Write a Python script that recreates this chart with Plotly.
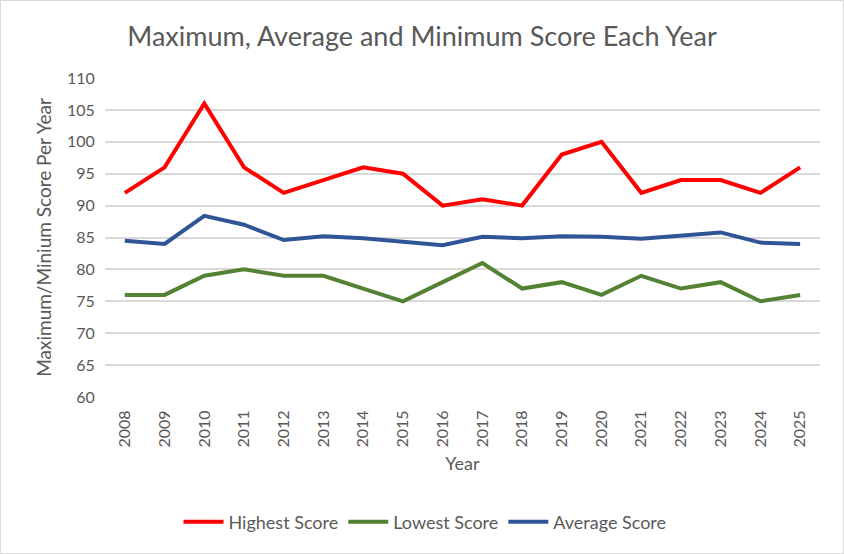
import plotly.graph_objects as go

years = [str(y) for y in range(2008, 2026)]
highest = [92, 96, 106, 96, 92, 94, 96, 95, 90, 91, 90, 98, 100, 92, 94, 94, 92, 96]
lowest = [76, 76, 79, 80, 79, 79, 77, 75, 78, 81, 77, 78, 76, 79, 77, 78, 75, 76]
average = [84.5, 84.0, 88.4, 87.0, 84.6, 85.2, 84.9, 84.3, 83.8, 85.1, 84.9, 85.2, 85.1, 84.8, 85.3, 85.8, 84.2, 84.0]

W, H = 844, 554
ml, mr, mt, mb = 105, 24, 78, 157
font = "Lato, Arial, sans-serif"

fig = go.Figure()
fig.add_trace(go.Scatter(x=years, y=highest, name="Highest Score", mode="lines",
                         line=dict(color="#ff0000", width=4)))
fig.add_trace(go.Scatter(x=years, y=lowest, name="Lowest Score", mode="lines",
                         line=dict(color="#548235", width=4)))
fig.add_trace(go.Scatter(x=years, y=average, name="Average Score", mode="lines",
                         line=dict(color="#2f5597", width=4)))

pw = W - ml - mr
ph = H - mt - mb
fig.add_shape(type="rect", xref="paper", yref="paper",
              x0=(-ml + 0.5) / pw, x1=(pw + mr - 0.5) / pw,
              y0=(-mb + 0.5) / ph, y1=(ph + mt - 0.5) / ph,
              line=dict(color="#d9d9d9", width=1), layer="below")

fig.update_layout(
    width=W, height=H,
    margin=dict(l=ml, r=mr, t=mt, b=mb),
    paper_bgcolor="white", plot_bgcolor="white",
    font=dict(family=font, color="#595959", size=16),
    title=dict(text="Maximum, Average and Minimum Score Each Year",
               x=0.5, xanchor="center", y=1 - 37 / H, yanchor="middle",
               font=dict(size=27, color="#595959", family=font)),
    xaxis=dict(type="category", range=[-0.5, 17.5], tickangle=-90, showgrid=False, showline=False,
               ticks="outside", ticklen=6, tickcolor="rgba(0,0,0,0)",
               tickfont=dict(size=16, color="#595959"),
               title=dict(text="Year", font=dict(size=18, color="#595959"), standoff=10)),
    yaxis=dict(range=[60, 110], dtick=5, showgrid=True, gridcolor="#d9d9d9", gridwidth=1.5,
               zeroline=False, showline=False, ticks="outside", ticklen=6, tickcolor="rgba(0,0,0,0)",
               tickfont=dict(size=16, color="#595959"),
               title=dict(text="Maximum/Minium Score Per Year", font=dict(size=19, color="#595959"), standoff=10)),
    legend=dict(orientation="h", x=(425 - ml) / pw, xanchor="center", y=-(522 - 397) / ph, yanchor="middle",
                font=dict(size=18, color="#595959"), itemwidth=40, tracegroupgap=0),
    showlegend=True,
)

fig.write_html("out.html")
